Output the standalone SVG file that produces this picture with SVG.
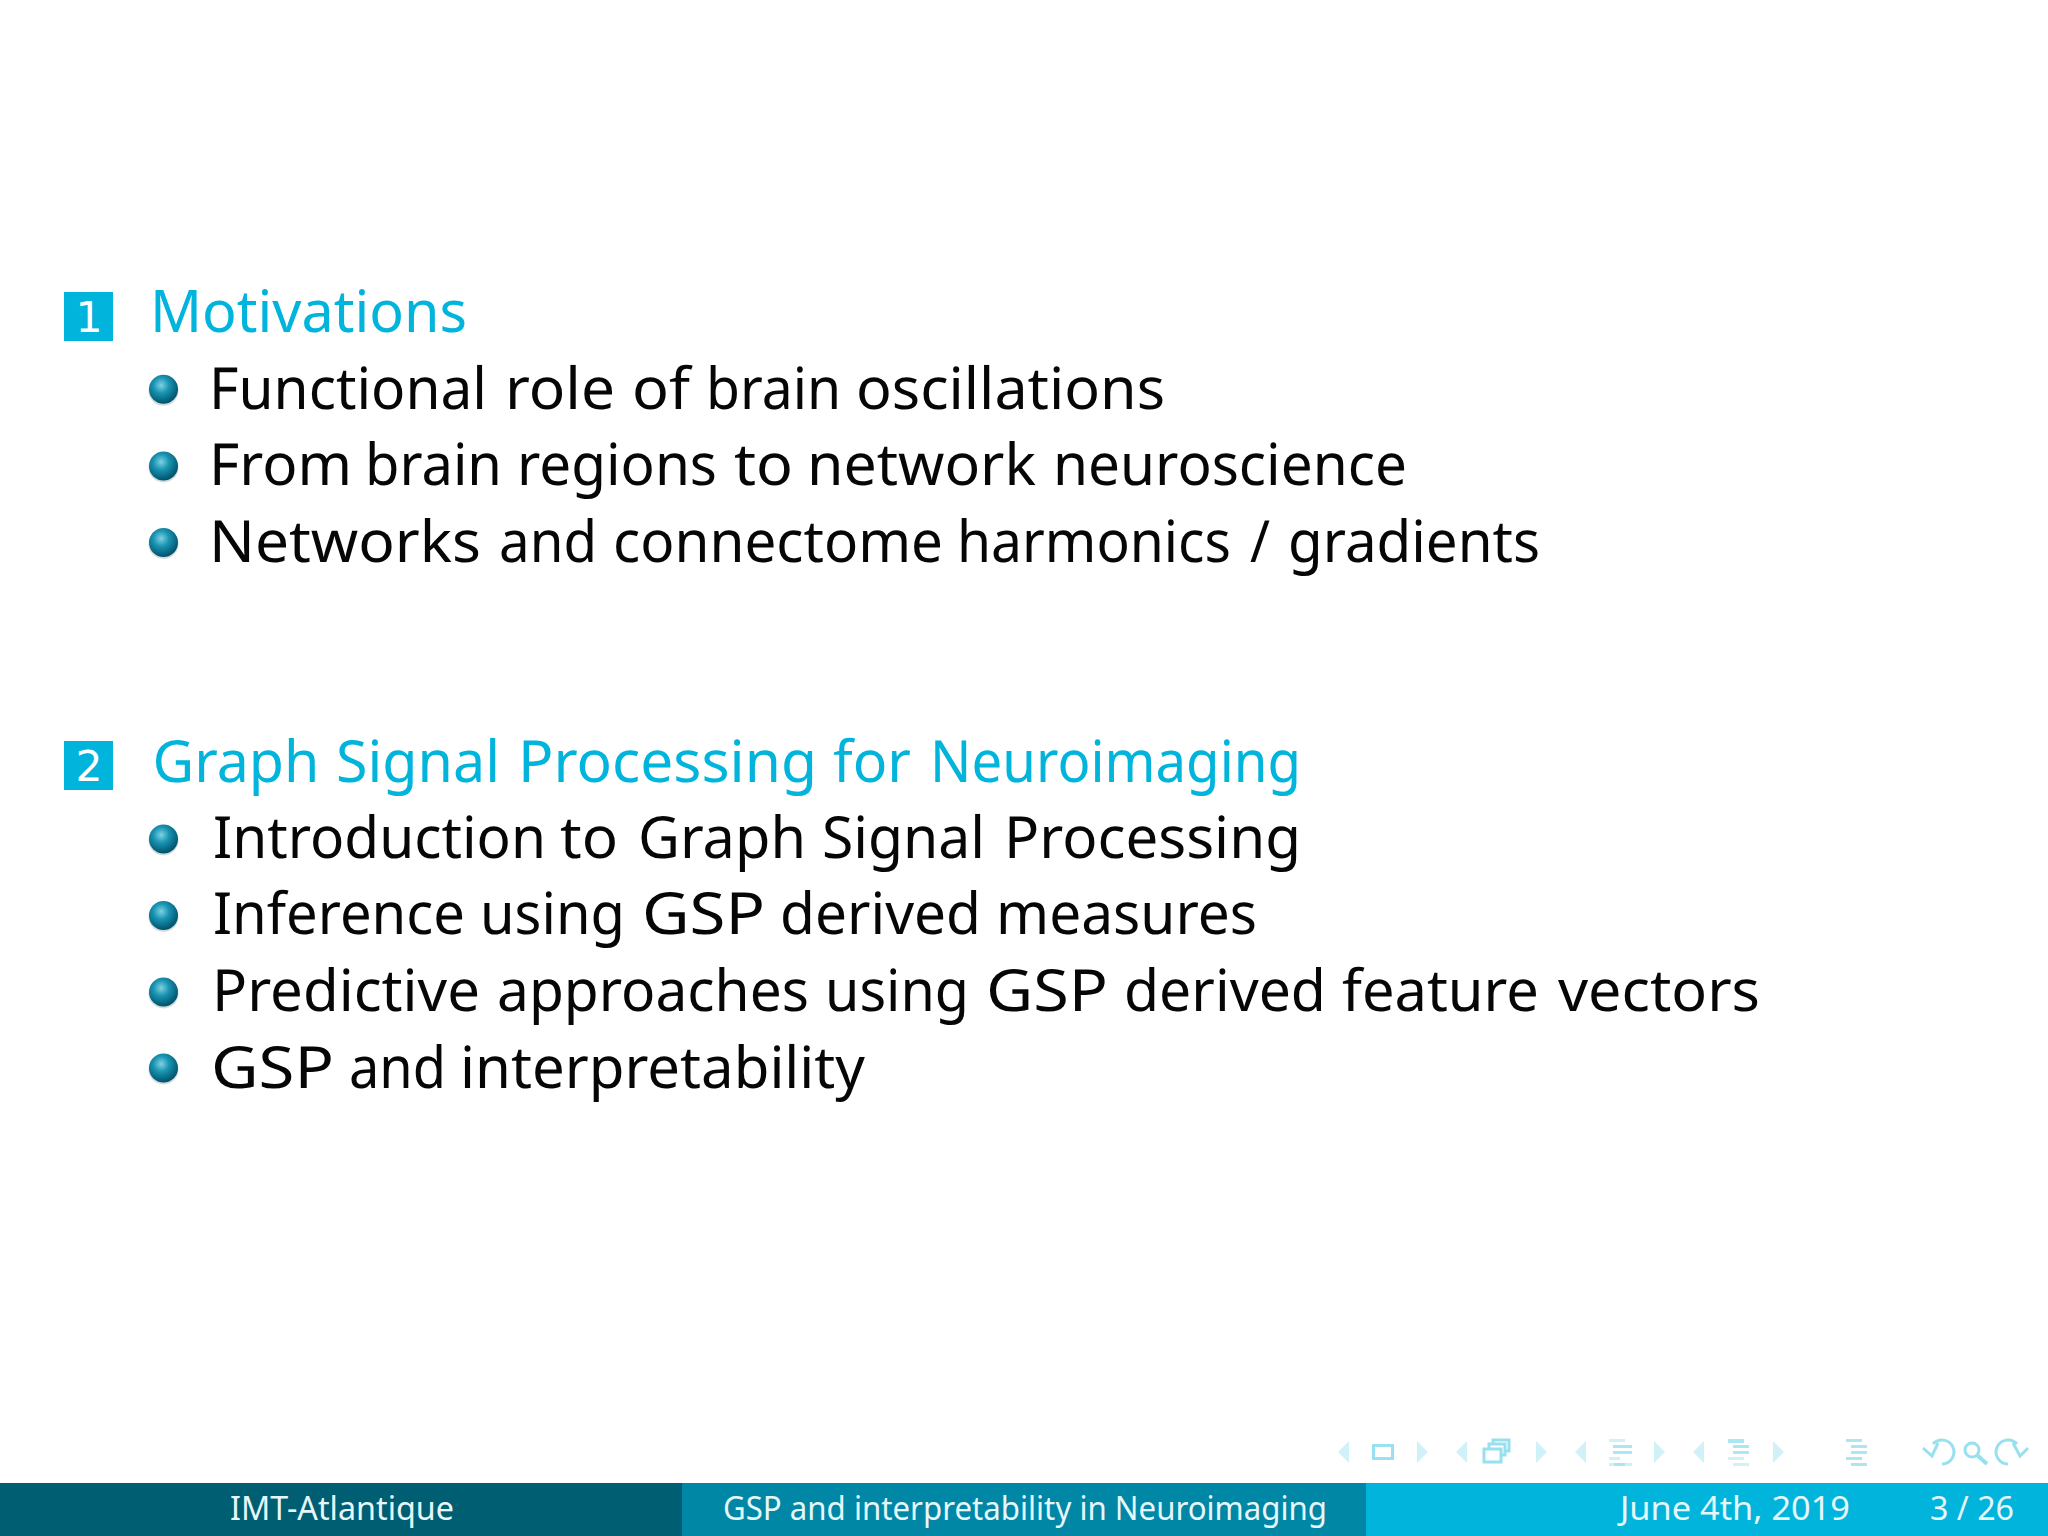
<svg xmlns="http://www.w3.org/2000/svg" width="2048" height="1536" viewBox="0 0 2048 1536">
<style>
text{font-family:"Noto Sans","DejaVu Sans",sans-serif;}
tspan{text-rendering:geometricPrecision;}
.h{font-size:58px;fill:#00b4dc;}
.i{font-size:58px;fill:#060606;}
.n{font-size:42.500px;fill:#fff;text-anchor:middle;font-family:"DejaVu Sans",sans-serif;}
.f{font-size:32px;fill:#e6f7fb;}
.sq{fill:#00b4dc;}
.nav{fill:#00b4dc;opacity:.18;}
.nl{fill:none;stroke:#00b4dc;stroke-width:3;opacity:.4;}
.nf{fill:#00b4dc;opacity:.32;}
</style>
<defs>
<radialGradient id="ball" cx=".42" cy=".36" r=".68">
<stop offset="0" stop-color="#7fd2e2"/>
<stop offset=".4" stop-color="#1a94b2"/>
<stop offset=".85" stop-color="#045d78"/>
<stop offset="1" stop-color="#034a60"/>
</radialGradient>
<g id="b"><circle r="15" cy="1.500" fill="#a8b8bc" opacity=".5"/><circle r="14.500" fill="url(#ball)"/></g>
<path id="tl" d="M0 0l11-11v22z"/>
<path id="tr" d="M0 0l-11-11v22z"/>
</defs>
<rect width="2048" height="1536" fill="#fff"/>
<g id="section-1">
<rect class="sq" x="64" y="292" width="49" height="49"/>
<text class="n" x="89" y="332">1</text>
<text class="h" x="150" y="332" textLength="317" lengthAdjust="spacingAndGlyphs">Motivations</text>
<use href="#b" x="163.500" y="389.300"/>
<text class="i" y="408.500"><tspan x="209" textLength="278" lengthAdjust="spacingAndGlyphs">Functional</tspan> <tspan x="505" textLength="110" lengthAdjust="spacingAndGlyphs">role</tspan> <tspan x="632" textLength="58" lengthAdjust="spacingAndGlyphs">of</tspan> <tspan x="706" textLength="135" lengthAdjust="spacingAndGlyphs">brain</tspan> <tspan x="856" textLength="309" lengthAdjust="spacingAndGlyphs">oscillations</tspan></text>
<use href="#b" x="163.500" y="466"/>
<text class="i" y="485"><tspan x="209" textLength="143" lengthAdjust="spacingAndGlyphs">From</tspan> <tspan x="365" textLength="137" lengthAdjust="spacingAndGlyphs">brain</tspan> <tspan x="517" textLength="200" lengthAdjust="spacingAndGlyphs">regions</tspan> <tspan x="734" textLength="59" lengthAdjust="spacingAndGlyphs">to</tspan> <tspan x="807" textLength="229" lengthAdjust="spacingAndGlyphs">network</tspan> <tspan x="1053" textLength="354" lengthAdjust="spacingAndGlyphs">neuroscience</tspan></text>
<use href="#b" x="163.500" y="542.500"/>
<text class="i" y="562"><tspan x="209" textLength="272" lengthAdjust="spacingAndGlyphs">Networks</tspan> <tspan x="499" textLength="98" lengthAdjust="spacingAndGlyphs">and</tspan> <tspan x="613" textLength="330" lengthAdjust="spacingAndGlyphs">connectome</tspan> <tspan x="957" textLength="274" lengthAdjust="spacingAndGlyphs">harmonics</tspan> <tspan x="1250" textLength="20" lengthAdjust="spacingAndGlyphs">/</tspan> <tspan x="1288" textLength="252" lengthAdjust="spacingAndGlyphs">gradients</tspan></text>
</g>
<g id="section-2">
<rect class="sq" x="64" y="741" width="49" height="49"/>
<text class="n" x="89" y="781">2</text>
<text class="h" y="781.500"><tspan x="152.500" textLength="167" lengthAdjust="spacingAndGlyphs">Graph</tspan> <tspan x="336" textLength="164" lengthAdjust="spacingAndGlyphs">Signal</tspan> <tspan x="518" textLength="299" lengthAdjust="spacingAndGlyphs">Processing</tspan> <tspan x="833" textLength="78" lengthAdjust="spacingAndGlyphs">for</tspan> <tspan x="930" textLength="371" lengthAdjust="spacingAndGlyphs">Neuroimaging</tspan></text>
<use href="#b" x="163.500" y="839"/>
<text class="i" y="858"><tspan x="213" textLength="333" lengthAdjust="spacingAndGlyphs">Introduction</tspan> <tspan x="560" textLength="58" lengthAdjust="spacingAndGlyphs">to</tspan> <tspan x="638" textLength="168" lengthAdjust="spacingAndGlyphs">Graph</tspan> <tspan x="822" textLength="163" lengthAdjust="spacingAndGlyphs">Signal</tspan> <tspan x="1004" textLength="297" lengthAdjust="spacingAndGlyphs">Processing</tspan></text>
<use href="#b" x="163.500" y="915.500"/>
<text class="i" y="934"><tspan x="213" textLength="252" lengthAdjust="spacingAndGlyphs">Inference</tspan> <tspan x="480" textLength="145" lengthAdjust="spacingAndGlyphs">using</tspan> <tspan x="642" textLength="123" lengthAdjust="spacingAndGlyphs">GSP</tspan> <tspan x="780" textLength="201" lengthAdjust="spacingAndGlyphs">derived</tspan> <tspan x="996" textLength="261" lengthAdjust="spacingAndGlyphs">measures</tspan></text>
<use href="#b" x="163.500" y="992"/>
<text class="i" y="1011"><tspan x="212" textLength="268" lengthAdjust="spacingAndGlyphs">Predictive</tspan> <tspan x="497" textLength="312" lengthAdjust="spacingAndGlyphs">approaches</tspan> <tspan x="825" textLength="144" lengthAdjust="spacingAndGlyphs">using</tspan> <tspan x="986" textLength="122" lengthAdjust="spacingAndGlyphs">GSP</tspan> <tspan x="1124" textLength="202" lengthAdjust="spacingAndGlyphs">derived</tspan> <tspan x="1342" textLength="197" lengthAdjust="spacingAndGlyphs">feature</tspan> <tspan x="1558" textLength="202" lengthAdjust="spacingAndGlyphs">vectors</tspan></text>
<use href="#b" x="163.500" y="1068"/>
<text class="i" y="1087.500"><tspan x="211" textLength="123" lengthAdjust="spacingAndGlyphs">GSP</tspan> <tspan x="349" textLength="97" lengthAdjust="spacingAndGlyphs">and</tspan> <tspan x="460" textLength="405" lengthAdjust="spacingAndGlyphs">interpretability</tspan></text>
</g>
<g id="footer">
<rect x="0" y="1483" width="682" height="53" fill="#005e72"/>
<rect x="682" y="1483" width="684" height="53" fill="#0087a6"/>
<rect x="1366" y="1483" width="682" height="53" fill="#00b4dc"/>
<text class="f" x="230" y="1520" textLength="224" lengthAdjust="spacingAndGlyphs">IMT-Atlantique</text>
<text class="f" x="723" y="1520" textLength="604" lengthAdjust="spacingAndGlyphs">GSP and interpretability in Neuroimaging</text>
<text class="f" x="1620" y="1520" textLength="230" lengthAdjust="spacingAndGlyphs">June 4th, 2019</text>
<text class="f" x="1930" y="1520" textLength="84" lengthAdjust="spacingAndGlyphs">3 / 26</text>
</g>
<g id="navigation">
<use class="nav" href="#tl" x="1338" y="1452"/>
<rect class="nl" x="1373.500" y="1445.500" width="19" height="13"/>
<use class="nav" href="#tr" x="1428" y="1452"/>
<use class="nav" href="#tl" x="1456" y="1452"/>
<g class="nl"><rect x="1484" y="1449" width="17" height="13"/><path d="M1489 1449v-5h16v11h-4M1493 1444v-4h16v11h-4"/></g>
<use class="nav" href="#tr" x="1547" y="1452"/>
<use class="nav" href="#tl" x="1575" y="1452"/>
<g class="nav"><rect x="1609" y="1439" width="16" height="3"/><rect x="1609" y="1463" width="16" height="3"/><rect x="1609" y="1457" width="11" height="3"/></g>
<g class="nf"><rect x="1613" y="1445" width="19" height="3"/><rect x="1613" y="1451" width="19" height="3"/></g>
<rect class="nav" x="1614" y="1463" width="18" height="3"/>
<use class="nav" href="#tr" x="1665" y="1452"/>
<use class="nav" href="#tl" x="1693" y="1452"/>
<g class="nf"><rect x="1728" y="1439" width="16" height="4"/><rect x="1733" y="1445" width="16" height="3"/><rect x="1733" y="1451" width="16" height="3"/></g>
<g class="nav"><rect x="1728" y="1457" width="16" height="3"/><rect x="1733" y="1463" width="16" height="3"/></g>
<use class="nav" href="#tr" x="1784" y="1452"/>
<g class="nf"><rect x="1846" y="1439" width="16" height="3"/><rect x="1851" y="1445" width="16" height="3"/><rect x="1851" y="1451" width="16" height="3"/><rect x="1846" y="1457" width="16" height="3"/><rect x="1851" y="1463" width="16" height="3"/></g>
<g class="nl"><path d="M1933 1444A12 12 0 1 1 1942 1464"/><path d="M1923 1448l9 8 6-13"/><circle cx="1972" cy="1450" r="7"/><path d="M1977 1455l10 9" stroke-width="4"/><path d="M2017 1444A12 12 0 1 0 2008 1464"/><path d="M2028 1448l-8 8-7-13"/></g>
</g>
</svg>
